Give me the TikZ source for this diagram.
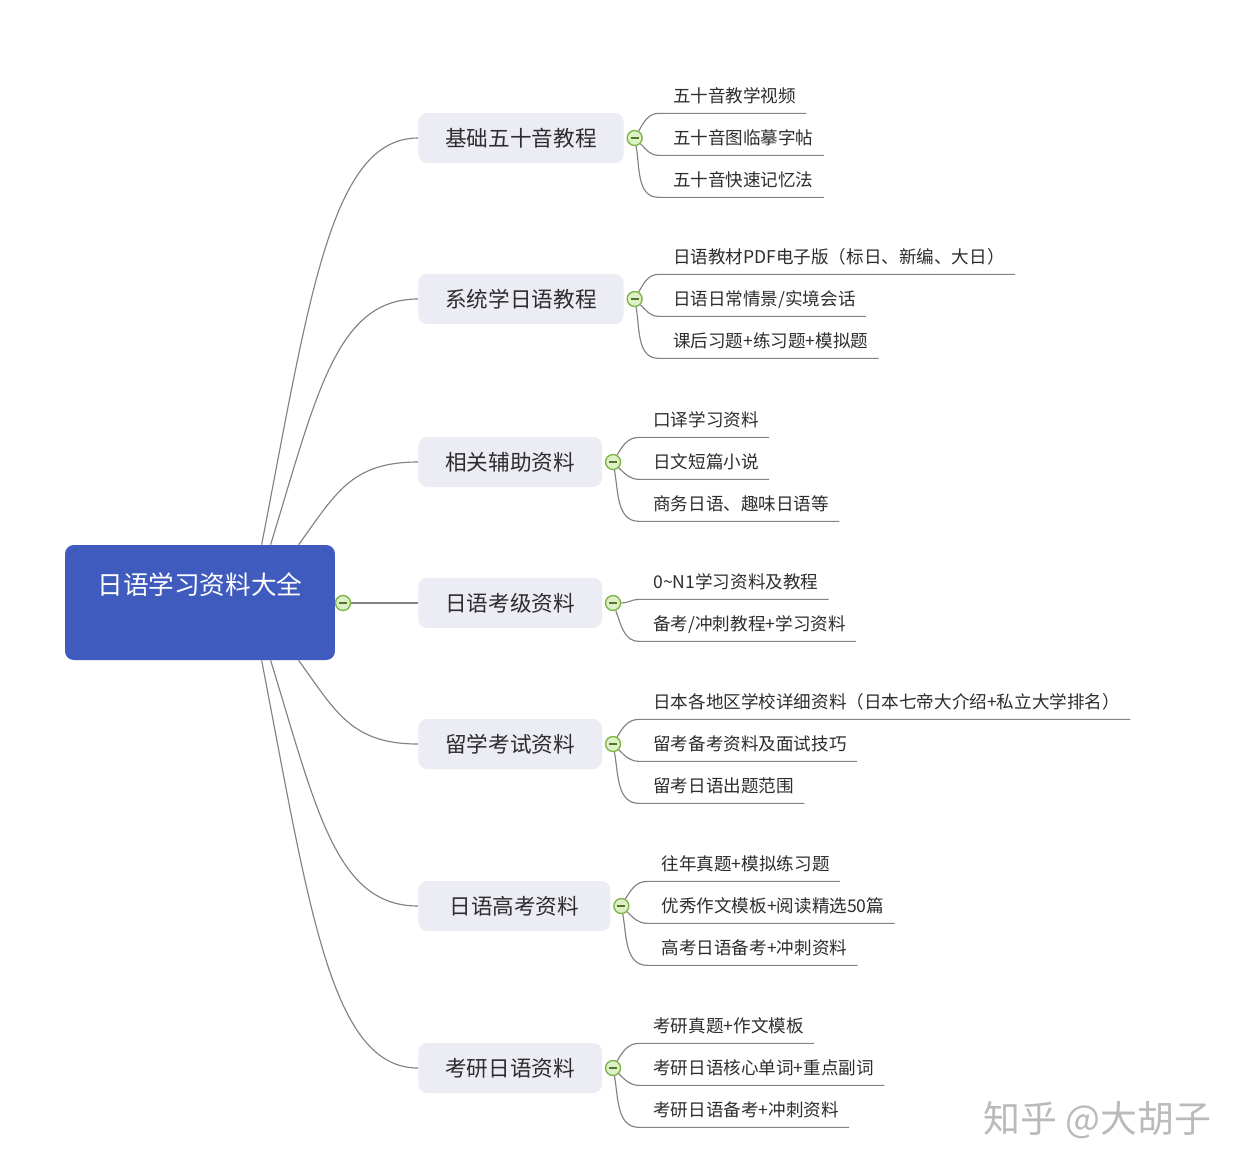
\documentclass[tikz,border=0pt]{standalone}
\usepackage{fontspec}
\setmainfont{Noto Sans CJK SC}
\usetikzlibrary{positioning}

\definecolor{rootblue}{RGB}{63,91,190}
\definecolor{topicgray}{RGB}{235,236,244}
\definecolor{linegray}{RGB}{130,130,130}
\definecolor{textgray}{RGB}{45,45,45}
\definecolor{knobline}{RGB}{128,182,72}
\definecolor{knobfill}{RGB}{222,240,200}
\definecolor{knobdark}{RGB}{80,120,40}
\definecolor{markgray}{RGB}{186,186,186}

\begin{document}
\begin{tikzpicture}[
            x = 0.02cm, y = -0.02cm, % one unit = one pixel, y runs down
            link/.style = {draw = linegray, line width = 0.65pt},
            rootbox/.style = {
                fill = rootblue, rounded corners = 5pt, text = white,
                font = \fontsize{14.6}{16}\selectfont,
                minimum width = 5.4cm, minimum height = 2.3cm,
                text height = 0.45cm, text depth = 0.76cm % lift the title
            },
            topic/.style = {
                fill = topicgray, rounded corners = 5pt, text = textgray,
                font = \fontsize{12.3}{14}\selectfont,
                inner xsep = 0.54cm, inner ysep = 0pt,
                minimum height = 1cm, anchor = west
            },
            leaf/.style = {
                text = textgray, font = \fontsize{10}{12}\selectfont,
                inner sep = 0pt, minimum height = 0.68cm,
                text height = 0.88em, text depth = 0.12em, anchor = west
            },
            knob/.style = {
                circle, draw = knobline, fill = knobfill, line width = 0.8pt,
                minimum size = 0.3cm, inner sep = 0pt,
                path picture = {\draw[knobdark, line width = 0.9pt]
                    ([xshift=-0.08cm]path picture bounding box.center) --
                    ([xshift=0.08cm]path picture bounding box.center);}
            }
        ]

        \fill[white] (0,0) rectangle (1242,1171);
        \useasboundingbox (0,0) rectangle (1242,1171);

        % centre topic
        \node[rootbox] (root) at (200,602.5) {日语学习资料大全};

        % main topics
        \node[topic] (b1) at (418,138) {基础五十音教程};
        \node[topic] (b2) at (418,299) {系统学日语教程};
        \node[topic] (b3) at (418,462) {相关辅助资料};
        \node[topic] (b4) at (418,603) {日语考级资料};
        \node[topic] (b5) at (418,744) {留学考试资料};
        \node[topic, minimum width=3.84cm] (b6) at (418,906) {日语高考资料};
        \node[topic] (b7) at (418,1068) {考研日语资料};

        % collapse knobs
        \node[knob] (k0) at (343,603) {};
        \node[knob, right=0.05cm of b1] (k1) {};
        \node[knob, right=0.05cm of b2] (k2) {};
        \node[knob, right=0.05cm of b3] (k3) {};
        \node[knob, right=0.05cm of b4] (k4) {};
        \node[knob, right=0.05cm of b5] (k5) {};
        \node[knob, right=0.05cm of b6] (k6) {};
        \node[knob, right=0.05cm of b7] (k7) {};

        % subtopics
        \node[leaf] (l11) at ([xshift=0.76cm, yshift=0.84cm]k1) {五十音教学视频};
        \node[leaf] (l12) at ([xshift=0.76cm]k1) {五十音图临摹字帖};
        \node[leaf] (l13) at ([xshift=0.76cm, yshift=-0.84cm]k1) {五十音快速记忆法};

        \node[leaf] (l21) at ([xshift=0.76cm, yshift=0.84cm]k2) {日语教材PDF电子版（标日、新编、大日）};
        \node[leaf] (l22) at ([xshift=0.76cm]k2) {日语日常情景/实境会话};
        \node[leaf] (l23) at ([xshift=0.76cm, yshift=-0.84cm]k2) {课后习题+练习题+模拟题};

        \node[leaf] (l31) at ([xshift=0.8cm, yshift=0.84cm]k3) {口译学习资料};
        \node[leaf] (l32) at ([xshift=0.8cm]k3) {日文短篇小说};
        \node[leaf] (l33) at ([xshift=0.8cm, yshift=-0.84cm]k3) {商务日语、趣味日语等};

        \node[leaf] (l41) at ([xshift=0.8cm, yshift=0.42cm]k4) {0\textasciitilde N1学习资料及教程};
        \node[leaf] (l42) at ([xshift=0.8cm, yshift=-0.42cm]k4) {备考/冲刺教程+学习资料};

        \node[leaf] (l51) at ([xshift=0.8cm, yshift=0.84cm]k5) {日本各地区学校详细资料（日本七帝大介绍+私立大学排名）};
        \node[leaf] (l52) at ([xshift=0.8cm]k5) {留考备考资料及面试技巧};
        \node[leaf] (l53) at ([xshift=0.8cm, yshift=-0.84cm]k5) {留考日语出题范围};

        \node[leaf] (l61) at ([xshift=0.8cm, yshift=0.84cm]k6) {往年真题+模拟练习题};
        \node[leaf] (l62) at ([xshift=0.8cm]k6) {优秀作文模板+阅读精选50篇};
        \node[leaf] (l63) at ([xshift=0.8cm, yshift=-0.84cm]k6) {高考日语备考+冲刺资料};

        \node[leaf] (l71) at ([xshift=0.8cm, yshift=0.84cm]k7) {考研真题+作文模板};
        \node[leaf] (l72) at ([xshift=0.8cm]k7) {考研日语核心单词+重点副词};
        \node[leaf] (l73) at ([xshift=0.8cm, yshift=-0.84cm]k7) {考研日语备考+冲刺资料};

        % root to main topics
        \draw[link] ([xshift=3.94cm]root.north west) .. controls +(48,-248) and +(-87,0) .. (b1.west);
        \draw[link] ([xshift=4.12cm]root.north west) .. controls +(46,-150) and +(-82,0) .. (b2.west);
        \draw[link] ([xshift=4.68cm]root.north west) .. controls +(37,-51) and +(-67,0) .. (b3.west);
        \draw[link] (k0) -- (b4.west);
        \draw[link] ([xshift=4.68cm]root.south west) .. controls +(37,51) and +(-67,0) .. (b5.west);
        \draw[link] ([xshift=4.12cm]root.south west) .. controls +(46,150) and +(-82,0) .. (b6.west);
        \draw[link] ([xshift=3.94cm]root.south west) .. controls +(48,249) and +(-87,0) .. (b7.west);

        % knobs to subtopics, with underline
        \draw[link] (k1) to[out=60, in=180] ([xshift=-0.28cm]l11.south west) -- ([xshift=0.2cm]l11.south east);
        \draw[link] (k1) to[out=-45, in=180] ([xshift=-0.28cm]l12.south west) -- ([xshift=0.2cm]l12.south east);
        \draw[link] (k1) to[out=-80, in=180] ([xshift=-0.28cm]l13.south west) -- ([xshift=0.2cm]l13.south east);

        \draw[link] (k2) to[out=60, in=180] ([xshift=-0.28cm]l21.south west) -- ([xshift=0.2cm]l21.south east);
        \draw[link] (k2) to[out=-45, in=180] ([xshift=-0.28cm]l22.south west) -- ([xshift=0.2cm]l22.south east);
        \draw[link] (k2) to[out=-80, in=180] ([xshift=-0.28cm]l23.south west) -- ([xshift=0.2cm]l23.south east);

        \draw[link] (k3) to[out=60, in=180] ([xshift=-0.28cm]l31.south west) -- ([xshift=0.2cm]l31.south east);
        \draw[link] (k3) to[out=-45, in=180] ([xshift=-0.28cm]l32.south west) -- ([xshift=0.2cm]l32.south east);
        \draw[link] (k3) to[out=-80, in=180] ([xshift=-0.28cm]l33.south west) -- ([xshift=0.2cm]l33.south east);

        \draw[link] (k4) to[out=0, in=180] ([xshift=-0.28cm]l41.south west) -- ([xshift=0.2cm]l41.south east);
        \draw[link] (k4) to[out=-70, in=180] ([xshift=-0.28cm]l42.south west) -- ([xshift=0.2cm]l42.south east);

        \draw[link] (k5) to[out=60, in=180] ([xshift=-0.28cm]l51.south west) -- ([xshift=0.2cm]l51.south east);
        \draw[link] (k5) to[out=-45, in=180] ([xshift=-0.28cm]l52.south west) -- ([xshift=0.2cm]l52.south east);
        \draw[link] (k5) to[out=-80, in=180] ([xshift=-0.28cm]l53.south west) -- ([xshift=0.2cm]l53.south east);

        \draw[link] (k6) to[out=60, in=180] ([xshift=-0.28cm]l61.south west) -- ([xshift=0.2cm]l61.south east);
        \draw[link] (k6) to[out=-45, in=180] ([xshift=-0.28cm]l62.south west) -- ([xshift=0.2cm]l62.south east);
        \draw[link] (k6) to[out=-80, in=180] ([xshift=-0.28cm]l63.south west) -- ([xshift=0.2cm]l63.south east);

        \draw[link] (k7) to[out=60, in=180] ([xshift=-0.28cm]l71.south west) -- ([xshift=0.2cm]l71.south east);
        \draw[link] (k7) to[out=-45, in=180] ([xshift=-0.28cm]l72.south west) -- ([xshift=0.2cm]l72.south east);
        \draw[link] (k7) to[out=-80, in=180] ([xshift=-0.28cm]l73.south west) -- ([xshift=0.2cm]l73.south east);

        % watermark
        \node[anchor=west, inner sep=0pt, text=markgray, font=\fontsize{21}{25}\selectfont] (mark) at (983,1120) {知乎 @大胡子};
    \end{tikzpicture}
\end{document}
